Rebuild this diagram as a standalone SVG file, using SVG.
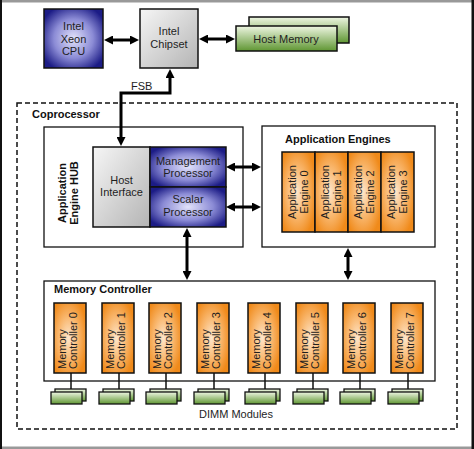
<svg xmlns="http://www.w3.org/2000/svg" width="474" height="449" viewBox="0 0 474 449">
<defs>
<radialGradient id="gBlue" cx="0.5" cy="0.5" r="0.6">
<stop offset="0" stop-color="#e2e2fa"/>
<stop offset="0.55" stop-color="#8c8cd6"/>
<stop offset="1" stop-color="#1c1c86"/>
</radialGradient>
<linearGradient id="gGray" x1="0" y1="0" x2="1" y2="1">
<stop offset="0" stop-color="#f6f6f6"/>
<stop offset="1" stop-color="#b4b4b4"/>
</linearGradient>
<linearGradient id="gGreen" x1="0" y1="0" x2="0" y2="1">
<stop offset="0" stop-color="#eef6e2"/>
<stop offset="1" stop-color="#5f9632"/>
</linearGradient>
<radialGradient id="gOrange" cx="0.45" cy="0.5" r="0.6">
<stop offset="0" stop-color="#fde6cc"/>
<stop offset="0.5" stop-color="#f9b870"/>
<stop offset="1" stop-color="#f08a1a"/>
</radialGradient>
<marker id="ah" viewBox="0 0 10 10" refX="3" refY="5" markerWidth="9" markerHeight="9" markerUnits="userSpaceOnUse" orient="auto-start-reverse">
<path d="M0,0 L10,5 L0,10 z" fill="#000"/>
</marker>
<style>
.t{font-family:"Liberation Sans",Arial,sans-serif;font-size:11px;fill:#1e1e1e}
.b{font-weight:bold;fill:#111}
.m{text-anchor:middle}
.box{stroke:#111;stroke-width:1.5}
.frame{fill:#fff;stroke:#111;stroke-width:1.3}
.arr{fill:none;stroke:#000;stroke-width:3;marker-start:url(#ah);marker-end:url(#ah)}
.wire{fill:none;stroke:#111;stroke-width:1.5}
.dimm{fill:url(#gGreen);stroke:#111;stroke-width:1.3}
</style>
</defs>
<rect x="0" y="0" width="474" height="449" fill="#fff"/>
<rect x="0" y="0" width="474" height="2.5" fill="#999"/>
<rect x="0" y="446.5" width="474" height="2.5" fill="#999"/>
<rect x="0" y="0" width="2" height="449" fill="#111"/>
<rect x="471.5" y="0" width="2.5" height="449" fill="#111"/>

<g id="coprocessor">
<rect x="17" y="103" width="440" height="326" fill="none" stroke="#111" stroke-width="1.5" stroke-dasharray="5 3"/>
<text class="t b" x="32" y="118">Coprocessor</text>
</g>

<g id="cpu">
<rect class="box" x="44" y="9" width="59" height="59" fill="url(#gBlue)"/>
<text class="t m" x="73.5" y="30">Intel</text>
<text class="t m" x="73.5" y="42.5">Xeon</text>
<text class="t m" x="73.5" y="55">CPU</text>
</g>

<g id="chipset">
<rect class="box" x="140" y="9" width="58" height="59" fill="url(#gGray)"/>
<text class="t m" x="169" y="35">Intel</text>
<text class="t m" x="169" y="48">Chipset</text>
</g>

<g id="host-memory">
<rect class="box" x="249" y="17" width="100" height="26" fill="url(#gGreen)"/>
<rect class="box" x="236" y="26" width="101" height="25" fill="url(#gGreen)"/>
<text class="t m" x="286" y="43">Host Memory</text>
</g>

<g id="hub">
<rect class="frame" x="44" y="127" width="199" height="120"/>
<text class="t b m" transform="translate(66,193) rotate(-90)">Application</text>
<text class="t b m" transform="translate(78,193) rotate(-90)">Engine HUB</text>
</g>

<g id="host-interface">
<rect class="box" x="93" y="147" width="57" height="80" fill="url(#gGray)"/>
<text class="t m" x="121.5" y="183.5">Host</text>
<text class="t m" x="121.5" y="196">Interface</text>
</g>

<g id="management-processor">
<rect class="box" x="150" y="147" width="76" height="40" fill="url(#gBlue)"/>
<text class="t m" x="188" y="165">Management</text>
<text class="t m" x="188" y="177">Processor</text>
</g>

<g id="scalar-processor">
<rect class="box" x="150" y="187" width="76" height="40" fill="url(#gBlue)"/>
<text class="t m" x="188" y="203">Scalar</text>
<text class="t m" x="188" y="216">Processor</text>
</g>

<g id="application-engines">
<rect class="frame" x="262" y="126" width="173" height="121"/>
<text class="t b" x="285" y="143">Application Engines</text>
</g>
<g id="ae0">
<rect class="box" x="282" y="152" width="33" height="80" fill="url(#gOrange)"/>
<text class="t m" transform="translate(296,192) rotate(-90)">Application</text>
<text class="t m" transform="translate(308,192) rotate(-90)">Engine 0</text>
</g>
<g id="ae1">
<rect class="box" x="315" y="152" width="33" height="80" fill="url(#gOrange)"/>
<text class="t m" transform="translate(329,192) rotate(-90)">Application</text>
<text class="t m" transform="translate(341,192) rotate(-90)">Engine 1</text>
</g>
<g id="ae2">
<rect class="box" x="348" y="152" width="33" height="80" fill="url(#gOrange)"/>
<text class="t m" transform="translate(362,192) rotate(-90)">Application</text>
<text class="t m" transform="translate(374,192) rotate(-90)">Engine 2</text>
</g>
<g id="ae3">
<rect class="box" x="381" y="152" width="33" height="80" fill="url(#gOrange)"/>
<text class="t m" transform="translate(395,192) rotate(-90)">Application</text>
<text class="t m" transform="translate(407,192) rotate(-90)">Engine 3</text>
</g>

<g id="memory-controller">
<rect class="frame" x="44" y="281" width="391" height="100"/>
<text class="t b" x="54" y="293">Memory Controller</text>
</g>

<g id="connectors">
<path class="arr" d="M110.3,40 H132.7"/>
<path class="arr" d="M205.3,39 H228.7"/>
<path class="arr" d="M170,75.3 V93 H121 V139.7"/>
<path class="arr" d="M232.3,167 H254.7"/>
<path class="arr" d="M232.3,207 H254.7"/>
<path class="arr" d="M187,234.3 V273.7"/>
<path class="arr" d="M348,254.3 V273.7"/>
<path class="wire" d="M71,373 V389 M119,373 V389 M166,373 V389 M214,373 V389 M265,373 V389 M313,373 V389 M360,373 V389 M408,373 V389"/>
</g>

<g id="mc0">
<rect class="box" x="54" y="303" width="32" height="70" fill="url(#gOrange)"/>
<text class="t" transform="translate(66,369) rotate(-90)">Memory</text>
<text class="t" transform="translate(77,369) rotate(-90)">Controller 0</text>
</g>
<g id="mc1">
<rect class="box" x="102" y="303" width="32" height="70" fill="url(#gOrange)"/>
<text class="t" transform="translate(114,369) rotate(-90)">Memory</text>
<text class="t" transform="translate(125,369) rotate(-90)">Controller 1</text>
</g>
<g id="mc2">
<rect class="box" x="149" y="303" width="32" height="70" fill="url(#gOrange)"/>
<text class="t" transform="translate(161,369) rotate(-90)">Memory</text>
<text class="t" transform="translate(172,369) rotate(-90)">Controller 2</text>
</g>
<g id="mc3">
<rect class="box" x="197" y="303" width="32" height="70" fill="url(#gOrange)"/>
<text class="t" transform="translate(209,369) rotate(-90)">Memory</text>
<text class="t" transform="translate(220,369) rotate(-90)">Controller 3</text>
</g>
<g id="mc4">
<rect class="box" x="248" y="303" width="32" height="70" fill="url(#gOrange)"/>
<text class="t" transform="translate(260,369) rotate(-90)">Memory</text>
<text class="t" transform="translate(271,369) rotate(-90)">Controller 4</text>
</g>
<g id="mc5">
<rect class="box" x="296" y="303" width="32" height="70" fill="url(#gOrange)"/>
<text class="t" transform="translate(308,369) rotate(-90)">Memory</text>
<text class="t" transform="translate(319,369) rotate(-90)">Controller 5</text>
</g>
<g id="mc6">
<rect class="box" x="343" y="303" width="32" height="70" fill="url(#gOrange)"/>
<text class="t" transform="translate(355,369) rotate(-90)">Memory</text>
<text class="t" transform="translate(366,369) rotate(-90)">Controller 6</text>
</g>
<g id="mc7">
<rect class="box" x="391" y="303" width="32" height="70" fill="url(#gOrange)"/>
<text class="t" transform="translate(403,369) rotate(-90)">Memory</text>
<text class="t" transform="translate(414,369) rotate(-90)">Controller 7</text>
</g>

<g id="dimm-modules">
<rect class="dimm" x="55" y="389" width="31" height="12"/><rect class="dimm" x="51" y="392" width="31" height="12"/>
<rect class="dimm" x="103" y="389" width="31" height="12"/><rect class="dimm" x="99" y="392" width="31" height="12"/>
<rect class="dimm" x="150" y="389" width="31" height="12"/><rect class="dimm" x="146" y="392" width="31" height="12"/>
<rect class="dimm" x="198" y="389" width="31" height="12"/><rect class="dimm" x="194" y="392" width="31" height="12"/>
<rect class="dimm" x="249" y="389" width="31" height="12"/><rect class="dimm" x="245" y="392" width="31" height="12"/>
<rect class="dimm" x="297" y="389" width="31" height="12"/><rect class="dimm" x="293" y="392" width="31" height="12"/>
<rect class="dimm" x="344" y="389" width="31" height="12"/><rect class="dimm" x="340" y="392" width="31" height="12"/>
<rect class="dimm" x="392" y="389" width="31" height="12"/><rect class="dimm" x="388" y="392" width="31" height="12"/>
<text class="t" x="199" y="418">DIMM Modules</text>
</g>

<g id="fsb-label">
<text class="t" x="131" y="90">FSB</text>
</g>
</svg>
